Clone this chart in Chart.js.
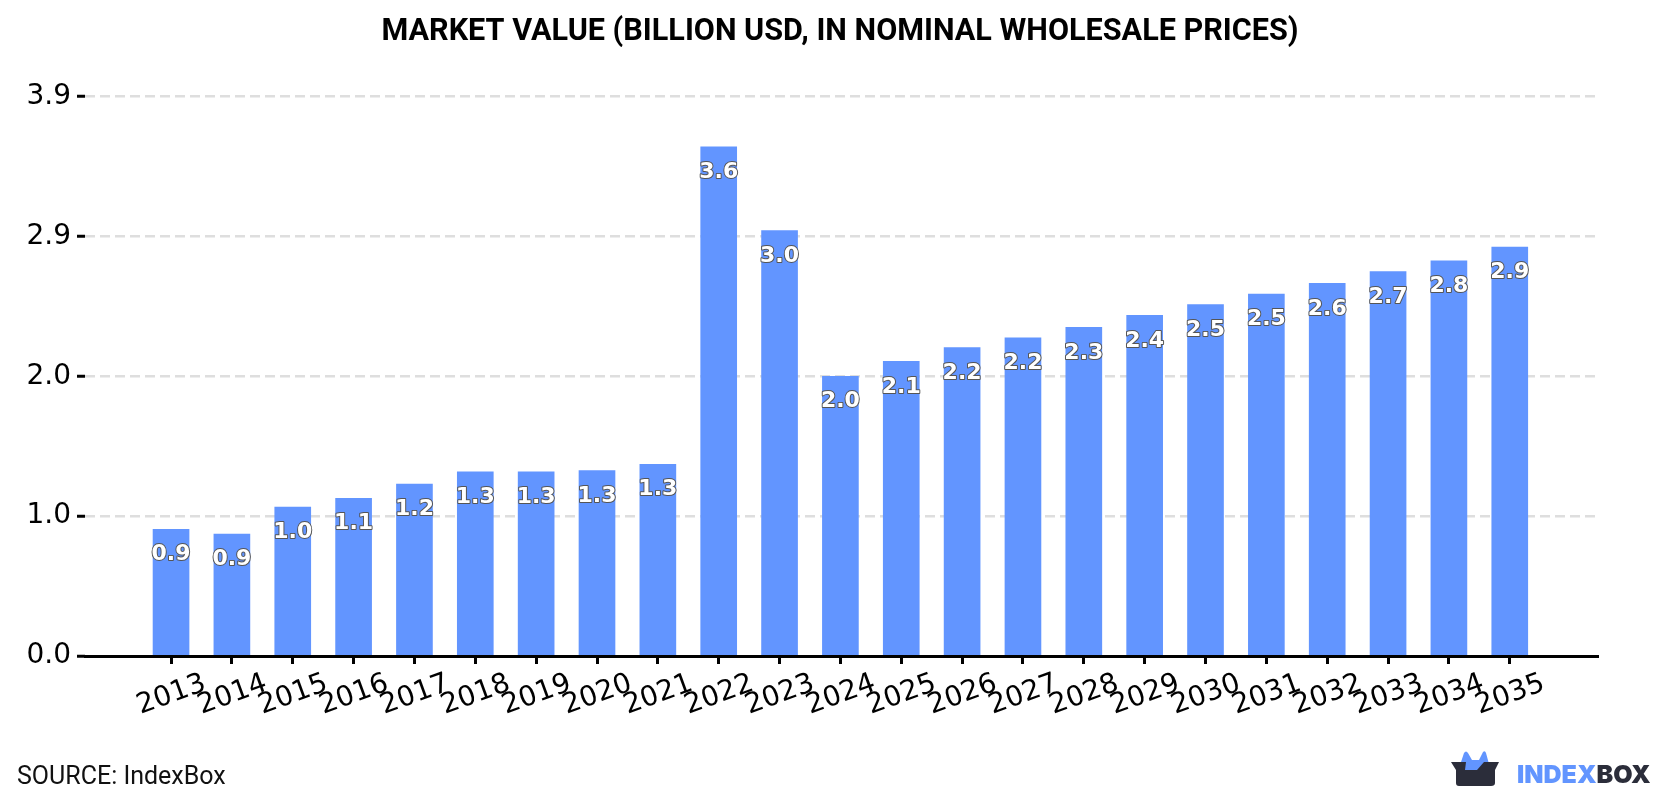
<!DOCTYPE html>
<html>
<head>
<meta charset="utf-8">
<title>Market value</title>
<script src="https://cdn.jsdelivr.net/npm/chart.js@4"></script>
<style>
    html, body { margin: 0; padding: 0; background: #fff; }
    #wrap { position: relative; width: 1680px; height: 800px; overflow: hidden; }
    #source { position: absolute; left: 17px; top: 761px; font: 25px Roboto, sans-serif; color: #111; }
    #logo { position: absolute; left: 1450px; top: 750px; width: 50px; height: 40px; }
    #brand { position: absolute; left: 1517px; top: 759px; font: 900 25px Inter, Roboto, sans-serif; color: #2b2d3a; }
    #brand span { color: #6295ff; }
</style>
</head>
<body>
<div id="wrap">
    <canvas id="marketChart" width="1680" height="800"></canvas>
    <div id="source">SOURCE: IndexBox</div>
    <svg id="logo" viewBox="0 0 50 40">
        <path d="M11 12 L14 3 Q16 0 18 3 L22 10 L29 10 L33 2 Q35 0 36 3 L39 14 L36 22 L12 22 Z" fill="#6295ff"/>
        <path d="M1 12 L16 12 L15 20 L27 20 L34 12 L49 12 L45 20 L45 33 Q45 36 41 36 L9 36 Q6 36 6 33 L6 20 Z" fill="#2b2d3a"/>
    </svg>
    <div id="brand"><span>INDEX</span>BOX</div>
</div>
<script>
const years = [2013, 2014, 2015, 2016, 2017, 2018, 2019, 2020, 2021, 2022, 2023, 2024,
    2025, 2026, 2027, 2028, 2029, 2030, 2031, 2032, 2033, 2034, 2035];
const marketValue = [0.884, 0.851, 1.038, 1.10, 1.198, 1.285, 1.285, 1.293, 1.337, 3.551, 2.967, 1.951,
    2.054, 2.151, 2.218, 2.292, 2.375, 2.451, 2.524, 2.598, 2.68, 2.755, 2.851];
const yTicks = [0, 0.975, 1.95, 2.925, 3.9];
const yTickLabels = ['0.0', '1.0', '2.0', '2.9', '3.9'];

// ---------- Value labels inside the bars ----------
const barLabels = {
    id: 'barLabels',
    afterDatasetsDraw(chart) {
        const ctx = chart.ctx;
        ctx.save();
        ctx.font = 'bold 22px "DejaVu Sans"';
        ctx.textAlign = 'center';
        ctx.textBaseline = 'middle';
        ctx.lineJoin = 'round';
        chart.getDatasetMeta(0).data.forEach((bar, i) => {
            const text = marketValue[i].toFixed(1);
            ctx.lineWidth = 2;
            ctx.strokeStyle = '#555';
            ctx.strokeText(text, bar.x, bar.y + 25.5);
            ctx.fillStyle = '#fff';
            ctx.fillText(text, bar.x, bar.y + 25.5);
        });
        ctx.restore();
    }
};

// The right padding pushes the title off centre, so move it back over the page
const centreTitle = {
    id: 'centreTitle',
    afterLayout(chart) {
        chart.titleBlock.left += 41;
        chart.titleBlock.right += 41;
    }
};

new Chart(document.getElementById('marketChart').getContext('2d'), {
    type: 'bar',
    data: {
        datasets: [{
            data: years.map((year, i) => ({ x: year, y: marketValue[i] })),
            backgroundColor: '#6295ff',
            barThickness: 36
        }]
    },
    options: {
        responsive: false,
        animation: false,
        layout: { padding: { top: 0, right: 82, bottom: 0, left: 0 } },
        plugins: {
            legend: { display: false },
            tooltip: { enabled: false },
            title: {
                display: true,
                text: 'MARKET VALUE (BILLION USD, IN NOMINAL WHOLESALE PRICES)',
                color: '#000',
                font: { family: 'Roboto', size: 30.6, weight: 'bold' },
                padding: { top: 14, bottom: 46 }
            }
        },
        scales: {
            x: {
                type: 'linear',
                offset: false,
                min: 2011.586,
                max: 2036.45,
                afterBuildTicks: scale => { scale.ticks = years.map(value => ({ value })); },
                afterFit: scale => { scale.height = 144; },
                grid: { display: true, offset: false, drawOnChartArea: false, color: '#000', tickLength: 8, tickWidth: 3 },
                border: { display: true, color: '#000', width: 3 },
                ticks: {
                    autoSkip: false,
                    minRotation: 20,
                    maxRotation: 20,
                    labelOffset: 34,
                    padding: 3,
                    color: '#000',
                    font: { family: 'DejaVu Sans', size: 28 },
                    callback: value => String(value)
                }
            },
            y: {
                min: 0,
                max: 3.9,
                afterBuildTicks: scale => { scale.ticks = yTicks.map(value => ({ value })); },
                afterFit: scale => { scale.width = 85; },
                grid: {
                    color: '#dedede',
                    lineWidth: 2.5,
                    tickColor: '#000',
                    tickLength: 8,
                    tickWidth: 3,
                    tickBorderDash: []
                },
                border: { display: false, dash: [10, 5] },
                ticks: {
                    padding: 6,
                    color: '#000',
                    font: { family: 'DejaVu Sans', size: 28 },
                    callback: (value, index) => yTickLabels[index]
                }
            }
        }
    },
    plugins: [barLabels, centreTitle]
});
</script>
</body>
</html>
